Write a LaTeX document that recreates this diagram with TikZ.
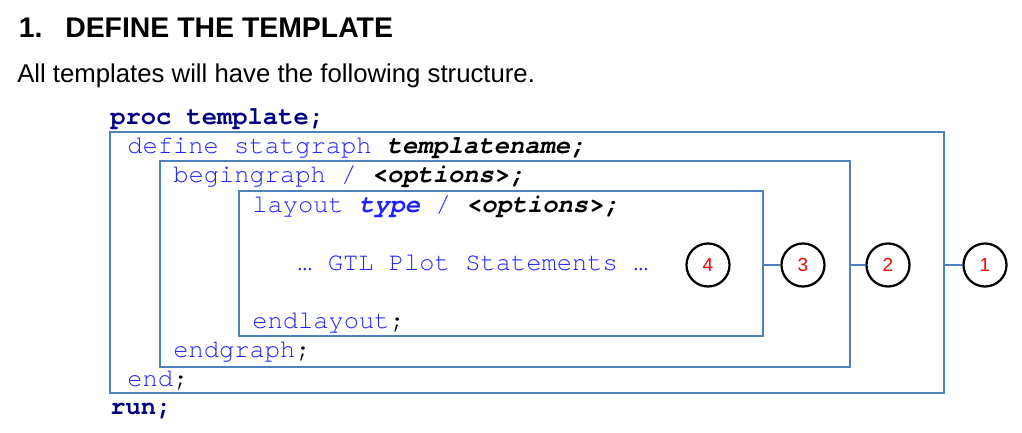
\documentclass[tikz,border=0pt]{standalone}
\usepackage{fontspec}
\setmainfont{Liberation Sans}
\setmonofont{texgyrecursor}[Extension=.otf, UprightFont=*-regular, BoldFont=*-bold, ItalicFont=*-italic, BoldItalicFont=*-bolditalic, Ligatures=NoCommon]
\definecolor{sasnavy}{HTML}{000080}
\definecolor{sasblue}{HTML}{2020FF}
\definecolor{boxblue}{HTML}{4F81BD}
\definecolor{numred}{HTML}{FF0000}
\newcommand\sasopt[1]{\textbf{\textit{#1}}}
\newcommand\saskw[1]{\textcolor{sasblue}{#1}}
\newcommand\sasproc[1]{\textcolor{sasnavy}{\textbf{#1}}}

\begin{document}
\begin{tikzpicture}[x=0.025cm,y=-0.025cm,
  code/.style={anchor=base west, inner sep=0, font=\fontsize{18.1pt}{20pt}\selectfont\ttfamily},
  prose/.style={anchor=base west, inner sep=0, font=\fontsize{18.3pt}{22pt}\selectfont},
  heading/.style={anchor=base west, inner sep=0, font=\fontsize{20.2pt}{24pt}\selectfont\bfseries},
  nest/.style={draw=boxblue, line width=1.3pt},
  level/.style={draw, circle, line width=1.6pt, minimum size=30.6pt, inner sep=0, text=numred, font=\fontsize{13.5pt}{15pt}\selectfont}]
\useasboundingbox (0,0) rectangle (1022,433);

\node[heading] (num) at (18.6,38) {1.};
\node[heading] (title) at (65,38) {DEFINE THE TEMPLATE};
\node[prose] (intro) at (17,83) {All templates will have the following structure.};

% nested blocks
\coordinate (box1 nw) at (110,132); \coordinate (box1 se) at (944,393);
\coordinate (box2 nw) at (160,161); \coordinate (box2 se) at (850,367);
\coordinate (box3 nw) at (239,191); \coordinate (box3 se) at (763,336);
\draw[nest] (box1 nw) rectangle (box1 se);
\draw[nest] (box2 nw) rectangle (box2 se);
\draw[nest] (box3 nw) rectangle (box3 se);

\node[code] (proc) at (110,125) {\sasproc{proc template;}};
\node[code] (define) at (127,153) {\saskw{define statgraph} \sasopt{templatename;}};
\node[code] (begin) at (173,183) {\saskw{begingraph /} \sasopt{<options>;}};
\node[code] (layout) at (252,212) {\saskw{layout \sasopt{type} /} \sasopt{<options>;}};
\node[code] (plots) at (297,270) {\saskw{… GTL Plot Statements …}};
\node[code] (endlayout) at (252,328) {\saskw{endlayout};};
\node[code] (endgraph) at (173,357) {\saskw{endgraph};};
\node[code] (end) at (127,386) {\saskw{end};};
\node[code] (run) at (110,414) {\sasproc{run;}};

% level markers
\node[level] (c4) at (708,265) {4};
\node[level] (c3) at (803,265) {3};
\node[level] (c2) at (888,265) {2};
\node[level] (c1) at (985,265) {1};
\draw[nest] (box3 se |- c3) -- (c3);
\draw[nest] (box2 se |- c2) -- (c2);
\draw[nest] (box1 se |- c1) -- (c1);

\end{tikzpicture}
\end{document}
